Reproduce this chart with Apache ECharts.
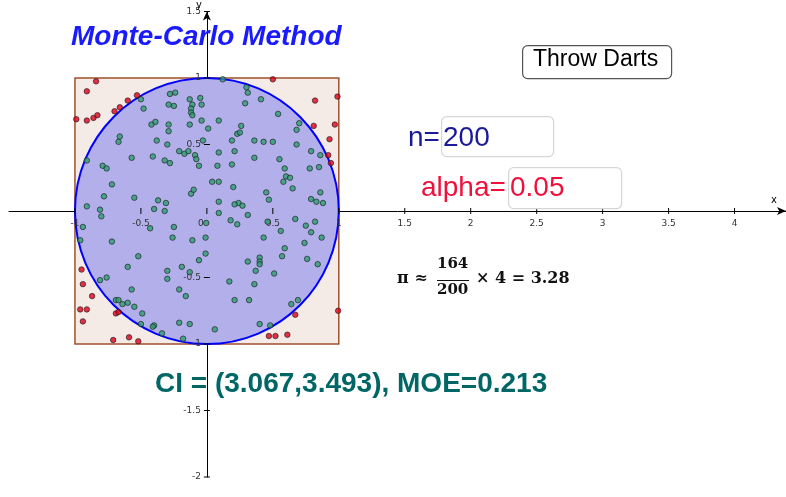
<!DOCTYPE html>
<html><head><meta charset="utf-8">
<script src="https://cdn.jsdelivr.net/npm/echarts@6/dist/echarts.min.js"></script>
<style>html,body{margin:0;padding:0;background:#fff}#c{width:786px;height:497px}</style>
</head><body><div id="c"></div>
<script>
const insidePoints = [
[-0.50,0.84],[-0.48,0.77],[-0.28,0.88],[-0.24,0.89],[-0.29,0.80],[-0.25,0.79],[-0.13,0.84],[-0.05,0.85],[-0.11,0.80],[-0.04,0.80],
[-0.12,0.77],[-0.12,0.74],[-0.11,0.72],[-0.04,0.68],[-0.42,0.65],[-0.39,0.67],[-0.29,0.65],[-0.29,0.60],[-0.13,0.65],[-0.66,0.56],
[-0.67,0.52],[-0.38,0.53],[-0.30,0.50],[-0.03,0.53],[-0.21,0.45],[-0.17,0.43],[-0.14,0.45],[-0.09,0.42],[-0.08,0.39],[-0.91,0.38],
[-0.79,0.34],[-0.76,0.32],[-0.57,0.40],[-0.41,0.41],[-0.32,0.38],[-0.28,0.36],[-0.06,0.34],[-0.72,0.20],[-0.78,0.11],[-0.55,0.10],
[-0.37,0.08],[-0.31,0.06],[-0.12,0.13],[-0.10,0.16],[-0.91,0.035],[-0.81,0.01],[-0.40,0.015],[-0.32,0.00],
[0.12,0.99],[0.30,0.93],[0.31,0.89],[0.41,0.84],[0.29,0.81],[0.54,0.73],[0.09,0.68],[0.01,0.62],[0.26,0.64],[0.23,0.58],
[0.25,0.59],[0.70,0.66],[0.68,0.61],[0.19,0.53],[0.36,0.53],[0.43,0.52],[0.50,0.52],[0.68,0.50],[0.09,0.44],[0.21,0.45],
[0.36,0.40],[0.79,0.45],[0.86,0.42],[0.08,0.34],[0.19,0.35],[0.55,0.39],[0.59,0.32],[0.78,0.32],[0.85,0.33],[0.60,0.26],
[0.63,0.25],[0.58,0.22],[0.04,0.22],[0.09,0.22],[0.20,0.18],[0.65,0.17],[0.45,0.14],[0.86,0.14],[0.09,0.07],[0.24,0.06],
[0.21,0.05],[0.27,0.04],[0.47,0.085],[0.79,0.09],[0.83,0.07],[0.88,0.06],
[-0.94,-0.12],[-0.96,-0.22],[-0.72,-0.23],[-0.43,-0.13],[-0.25,-0.12],[-0.26,-0.20],[-0.11,-0.22],[-0.01,-0.20],[-0.52,-0.34],[-0.60,-0.42],
[-0.81,-0.52],[-0.76,-0.50],[-0.30,-0.45],[-0.19,-0.42],[-0.13,-0.46],[-0.30,-0.51],[-0.01,-0.32],[-0.06,-0.37],[-0.57,-0.59],[-0.21,-0.59],
[-0.16,-0.64],[-0.69,-0.67],[-0.67,-0.67],[-0.64,-0.70],[-0.60,-0.69],[-0.55,-0.72],[-0.49,-0.77],[-0.50,-0.85],[-0.40,-0.86],[-0.41,-0.87],
[-0.34,-0.92],[-0.21,-0.84],[-0.13,-0.85],[-0.18,-0.96],[-0.80,-0.04],[-0.005,-0.09],
[0.09,-0.015],[0.31,-0.03],[0.18,-0.07],[0.23,-0.10],[0.46,-0.08],[0.67,-0.06],[0.75,-0.11],[0.82,-0.08],[0.79,-0.16],[0.87,-0.20],
[0.56,-0.15],[0.43,-0.20],[0.74,-0.24],[0.59,-0.28],[0.57,-0.34],[0.76,-0.36],[0.84,-0.40],[0.40,-0.35],[0.40,-0.38],[0.40,-0.40],
[0.31,-0.38],[0.37,-0.45],[0.51,-0.47],[0.17,-0.53],[0.36,-0.55],[0.21,-0.67],[0.32,-0.67],[0.69,-0.67],[0.64,-0.70],[0.40,-0.85],
[0.48,-0.86],[0.06,-0.89]
];
const outsidePoints = [
[-0.84,0.975],[-0.91,0.90],[-0.99,0.69],[-0.91,0.68],[-0.86,0.70],[-0.83,0.72],[-0.70,0.75],[-0.66,0.78],[-0.60,0.83],[-0.53,0.87],
[0.50,0.99],[0.82,0.83],[0.99,0.86],[0.81,0.64],[0.97,0.65],[0.93,0.54],[0.92,0.42],[0.94,0.36],
[-0.95,-0.44],[-0.94,-0.55],[-0.87,-0.64],[-0.96,-0.74],[-0.91,-0.74],[-0.94,-0.83],[-0.69,-0.77],[-0.67,-0.76],[-0.71,-0.97],[-0.59,-0.95],[-0.52,-0.98],
[0.995,-0.75],[0.67,-0.78],[0.47,-0.94],[0.52,-0.94],[0.61,-0.93]
];
const squareCorners = [[-1,-1],[1,1]];
const circle = {cx:0, cy:0, r:1};
const xRange = [-1.5, 4.39];
const yRange = [-2, 1.5];
const xTickLabels = [-1,-0.5,0,0.5,1,1.5,2,2.5,3,3.5,4];
const yTickLabels = [1.5,1,0.5,-0.5,-1,-1.5,-2];
const tickStep = 0.5;
const insideCount = 164, totalCount = 200, piEstimate = 3.28;
const ciText = 'CI = (3.067,3.493), MOE=0.213';

const chart = echarts.init(document.getElementById('c'));
const axisCommon = {
  type:'value', interval: tickStep, splitLine:{show:false},
  axisLine:{onZero:true, symbol:['none','arrow'], symbolSize:[6,9], lineStyle:{color:'#000', width:1}},
  axisTick:{show:false},
  axisLabel:{show:false}
};
chart.setOption({
  animation:false,
  grid:{left:9, right:0, top:11.5, bottom:20, containLabel:false, outerBoundsMode:'none'},
  xAxis:Object.assign({}, axisCommon, {min:xRange[0], max:xRange[1]}),
  yAxis:Object.assign({}, axisCommon, {min:yRange[0], max:yRange[1]}),
  series:[
    {type:'custom', z:1, silent:true, data:[squareCorners.flat()],
     renderItem:(p,api)=>{const a=api.coord([api.value(0),api.value(1)]), b=api.coord([api.value(2),api.value(3)]);
       return {type:'rect', shape:{x:a[0], y:b[1], width:b[0]-a[0], height:a[1]-b[1]},
         style:{fill:'#f5ebe6', stroke:'#a0522d', lineWidth:1.5}};}},
    {type:'custom', z:2, silent:true, data:[[circle.cx, circle.cy, circle.r]],
     renderItem:(p,api)=>{const c=api.coord([api.value(0),api.value(1)]); const s=api.size([api.value(2),api.value(2)]);
       return {type:'ellipse', shape:{cx:c[0], cy:c[1], rx:s[0], ry:s[1]},
         style:{fill:'rgba(150,150,235,0.7)', stroke:'#0000ff', lineWidth:2}};}},
    {type:'custom', z:3, silent:true, data:xTickLabels.map(v=>[v,0]),
     renderItem:(p,api)=>{const c=api.coord([api.value(0),0]); const v=api.value(0);
       return {type:'group', children:[
         {type:'line', shape:{x1:c[0],y1:c[1]-3,x2:c[0],y2:c[1]+3}, style:{stroke:'#000',lineWidth:1}},
         {type:'text', x:c[0]+(v===0?-6:0), y:c[1]+8, style:{text:v===0?'0':String(v), align:'center', verticalAlign:'top', font:'9px "DejaVu Sans"', fill:'#333'}}]};}},
    {type:'custom', z:3, silent:true, data:yTickLabels.map(v=>[0,v]),
     renderItem:(p,api)=>{const c=api.coord([0,api.value(1)]); const v=api.value(1);
       return {type:'group', children:[
         {type:'line', shape:{x1:c[0]-3,y1:c[1],x2:c[0]+3,y2:c[1]}, style:{stroke:'#000',lineWidth:1}},
         {type:'text', x:c[0]-6, y:c[1], style:{text:String(v), align:'right', verticalAlign:'middle', font:'9px "DejaVu Sans"', fill:'#333'}}]};}},
    {type:'custom', z:3, silent:true, data:[[xRange[1],0,yRange[1]]],
     renderItem:(p,api)=>{const a=api.coord([api.value(0),0]); const b=api.coord([0,api.value(2)]);
       return {type:'group', children:[
         {type:'text', x:a[0]-12, y:a[1]-6, style:{text:'x', align:'center', verticalAlign:'bottom', font:'10px "DejaVu Sans"', fill:'#000'}},
         {type:'text', x:b[0]-8, y:b[1]-6, style:{text:'y', align:'center', verticalAlign:'middle', font:'10px "DejaVu Sans"', fill:'#000'}}]};}},
    {type:'scatter', z:5, data:insidePoints, symbol:'circle', symbolSize:5.5,
     itemStyle:{color:'#2e9e74', borderColor:'#1a1a1a', borderWidth:0.8}},
    {type:'scatter', z:5, data:outsidePoints, symbol:'circle', symbolSize:5.5,
     itemStyle:{color:'#e0001a', borderColor:'#1a1a1a', borderWidth:0.8}}
  ],
  graphic:[
    {type:'text', left:71, top:23, z:10, style:{text:'Monte-Carlo Method', fill:'#1a1aff', font:'italic bold 28px "Liberation Sans", Arial'}},
    {type:'rect', left:522, top:45, z:10, shape:{width:149, height:33, r:5}, style:{fill:'#fff', stroke:'#555', lineWidth:1.2}},
    {type:'text', left:533, top:48, z:11, style:{text:'Throw Darts', fill:'#000', font:'23px "Liberation Sans", Arial'}},
    {type:'text', left:408, top:124, z:10, style:{text:'n=', fill:'#1a1a99', font:'28px "Liberation Sans", Arial'}},
    {type:'rect', left:441, top:116, z:10, shape:{width:112, height:40, r:5}, style:{fill:'rgba(255,255,255,0)', stroke:'#d6d6d6', lineWidth:1.2}},
    {type:'text', left:443, top:124, z:11, style:{text:String(totalCount), fill:'#1a1a99', font:'28px "Liberation Sans", Arial'}},
    {type:'text', left:421, top:174, z:10, style:{text:'alpha=', fill:'#f0103c', font:'28px "Liberation Sans", Arial'}},
    {type:'rect', left:508, top:167, z:10, shape:{width:113, height:41, r:5}, style:{fill:'rgba(255,255,255,0)', stroke:'#d6d6d6', lineWidth:1.2}},
    {type:'text', left:510, top:174, z:11, style:{text:'0.05', fill:'#f0103c', font:'28px "Liberation Sans", Arial'}},
    {type:'text', left:397, top:271, z:10, style:{text:'π ≈', fill:'#111', font:'bold 16px "DejaVu Serif", serif'}},
    {type:'text', left:437, top:257, z:10, style:{text:String(insideCount), fill:'#111', font:'bold 15px "DejaVu Serif", serif'}},
    {type:'rect', left:437, top:280, z:10, shape:{width:32, height:1}, style:{fill:'#111'}},
    {type:'text', left:437, top:283, z:10, style:{text:String(totalCount), fill:'#111', font:'bold 15px "DejaVu Serif", serif'}},
    {type:'text', left:476, top:271, z:10, style:{text:'× 4 = '+piEstimate.toFixed(2), fill:'#111', font:'bold 16px "DejaVu Serif", serif'}},
    {type:'text', left:155, top:370, z:10, style:{text:ciText, fill:'#006666', font:'bold 28px "Liberation Sans", Arial'}}
  ]
});
</script></body></html>
